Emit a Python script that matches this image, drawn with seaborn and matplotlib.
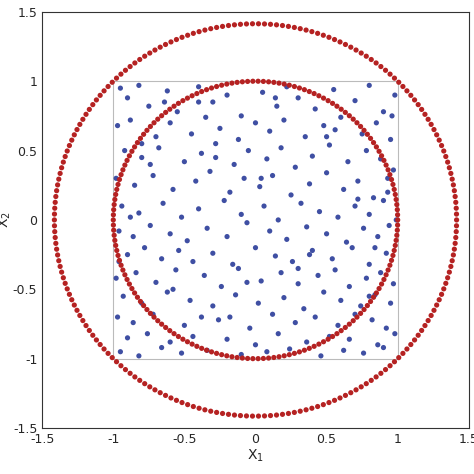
import numpy as np
import matplotlib
matplotlib.use("Agg")
import matplotlib.pyplot as plt
import seaborn as sns

pts_x = [-0.95,-0.9,-0.82,-0.75,-0.62,-0.55,-0.4,-0.3,-0.2,-0.1,0.05,0.15,0.22,0.3,0.42,0.55,0.7,0.8,0.9,0.98,
 -0.97,-0.88,-0.7,-0.6,-0.45,-0.35,-0.25,-0.12,0.0,0.1,0.2,0.35,0.48,0.6,0.75,0.85,0.95,
 -0.92,-0.8,-0.68,-0.5,-0.38,-0.28,-0.15,-0.05,0.08,0.18,0.28,0.4,0.52,0.65,0.78,0.88,0.97,
 -0.98,-0.85,-0.72,-0.58,-0.42,-0.32,-0.18,-0.08,0.03,0.12,0.25,0.38,0.5,0.62,0.72,0.83,0.93,
 -0.94,-0.82,-0.65,-0.52,-0.4,-0.22,-0.1,0.06,0.16,0.32,0.45,0.58,0.7,0.8,0.9,0.99,
 -0.96,-0.86,-0.74,-0.6,-0.48,-0.34,-0.2,-0.06,0.1,0.22,0.36,0.5,0.64,0.76,0.86,0.94,
 -0.9,-0.78,-0.66,-0.54,-0.44,-0.3,-0.16,0.0,0.14,0.26,0.4,0.54,0.68,0.8,0.92,
 -0.98,-0.84,-0.7,-0.56,-0.36,-0.24,-0.12,0.04,0.18,0.3,0.44,0.56,0.66,0.78,0.88,0.97,
 -0.93,-0.8,-0.62,-0.46,-0.3,-0.14,0.02,0.2,0.34,0.48,0.6,0.74,0.84,0.95,
 -0.97,-0.86,-0.72,-0.5,-0.38,-0.26,-0.04,0.12,0.28,0.42,0.58,0.7,0.82,0.92,
 -0.9,-0.76,-0.6,-0.44,-0.2,0.0,0.16,0.36,0.52,0.66,0.86,0.98,
 -0.95,-0.82,-0.66,-0.52,-0.34,-0.1,0.08,0.24,0.46,0.62,0.76,0.9,
 -0.88,-0.74,-0.58,-0.4,-0.18,0.04,0.3,0.5,0.72,0.84,0.96,
 -0.96,-0.8,-0.64,-0.28,-0.06,0.14,0.38,0.56,0.8,0.93]
pts_y = [0.95,0.88,0.97,0.82,0.93,0.78,0.96,0.85,0.9,0.75,0.92,0.82,0.96,0.88,0.8,0.94,0.86,0.97,0.78,0.9,
 0.68,0.72,0.6,0.7,0.62,0.74,0.66,0.58,0.7,0.64,0.72,0.6,0.68,0.74,0.62,0.7,0.58,
 0.5,0.45,0.52,0.42,0.48,0.55,0.4,0.5,0.44,0.52,0.38,0.46,0.54,0.42,0.5,0.44,0.36,
 0.3,0.25,0.32,0.22,0.28,0.35,0.2,0.3,0.24,0.32,0.18,0.26,0.34,0.22,0.28,0.16,0.3,
 0.1,0.05,0.12,0.02,0.08,0.14,0.04,0.1,0.0,0.12,0.06,0.02,0.1,0.04,0.14,0.0,
 -0.08,-0.12,-0.04,-0.1,-0.15,-0.06,-0.12,-0.02,-0.08,-0.14,-0.05,-0.1,-0.16,-0.06,-0.12,-0.04,
 -0.25,-0.2,-0.28,-0.22,-0.3,-0.24,-0.32,-0.2,-0.26,-0.3,-0.22,-0.28,-0.2,-0.32,-0.24,
 -0.42,-0.38,-0.45,-0.36,-0.4,-0.48,-0.35,-0.44,-0.38,-0.46,-0.4,-0.36,-0.48,-0.42,-0.38,-0.46,
 -0.55,-0.6,-0.52,-0.58,-0.62,-0.54,-0.6,-0.56,-0.64,-0.52,-0.58,-0.62,-0.54,-0.6,
 -0.7,-0.74,-0.68,-0.76,-0.7,-0.72,-0.78,-0.68,-0.74,-0.7,-0.76,-0.68,-0.72,-0.78,
 -0.85,-0.82,-0.88,-0.84,-0.86,-0.9,-0.82,-0.88,-0.84,-0.86,-0.9,-0.82,
 -0.95,-0.98,-0.92,-0.96,-0.94,-0.97,-0.95,-0.93,-0.98,-0.94,-0.96,-0.92,
 0.02,0.4,-0.5,0.85,-0.7,0.3,-0.35,0.6,0.15,-0.2,0.75,
 -0.3,0.55,0.85,0.45,-0.45,0.88,-0.25,0.65,-0.55,0.2]

# circle markers
inner_angles = np.linspace(0, 2*np.pi, 170, endpoint=False)
outer_angles = np.linspace(0, 2*np.pi, 210, endpoint=False)
inner_r = 1.0
outer_r = np.sqrt(2)

sns.set_style("white")
fig = plt.figure(figsize=(4.74, 4.74), dpi=100)
ax = fig.add_axes([0.089, 0.097, 0.9, 0.878])
ax.plot([-1, 1, 1, -1, -1], [-1, -1, 1, 1, -1], color="#bbbbbb", lw=0.8, zorder=1)
sns.scatterplot(x=pts_x, y=pts_y, color="#3f4fa3", s=14, edgecolor="none", ax=ax, zorder=2)
sns.scatterplot(x=inner_r*np.cos(inner_angles), y=inner_r*np.sin(inner_angles), color="#b52222", s=14, edgecolor="none", ax=ax, zorder=3)
sns.scatterplot(x=outer_r*np.cos(outer_angles), y=outer_r*np.sin(outer_angles), color="#b52222", s=14, edgecolor="none", ax=ax, zorder=3)
ax.set_xlim(-1.5, 1.5)
ax.set_ylim(-1.5, 1.5)
ax.set_xticks([-1.5, -1, -0.5, 0, 0.5, 1, 1.5])
ax.set_xticklabels(["-1.5", "-1", "-0.5", "0", "0.5", "1", "1.5"])
ax.set_yticks([-1.5, -1, -0.5, 0, 0.5, 1, 1.5])
ax.set_yticklabels(["-1.5", "-1", "-0.5", "0", "0.5", "1", "1.5"])
ax.tick_params(labelsize=9, direction="in", length=3)
for s in ax.spines.values():
    s.set_color("#333333"); s.set_linewidth(0.8)
ax.set_xlabel("X$_1$", fontsize=10, labelpad=1)
ax.set_ylabel("X$_2$", fontsize=10, labelpad=0)
fig.savefig("out.png", dpi=100)
